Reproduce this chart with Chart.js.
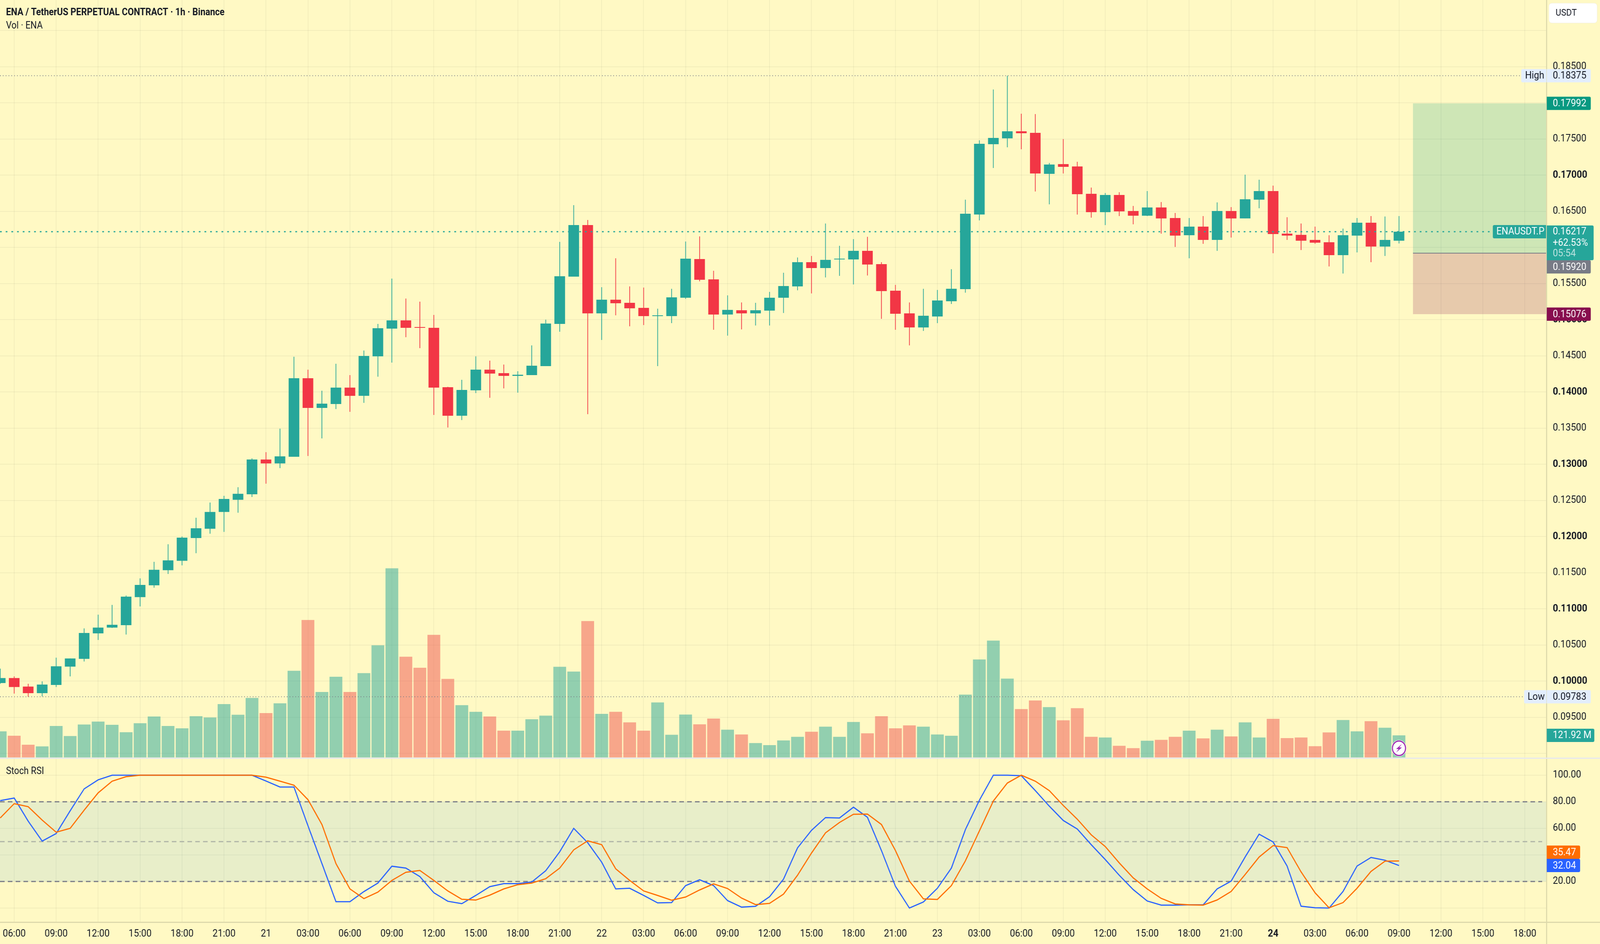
<!DOCTYPE html>
<html>
<head>
<meta charset="utf-8">
<title>ENA / TetherUS PERPETUAL CONTRACT</title>
<script src="https://cdn.jsdelivr.net/npm/chart.js@4"></script>
<style>
  html, body { margin: 0; padding: 0; background: #FFF9C4; overflow: hidden; }
  canvas { position: absolute; left: 0; display: block; }
</style>
</head>
<body>
<canvas id="mainChart" width="4508" height="1942" style="top:0"></canvas>
<canvas id="rsiChart" width="4508" height="474" style="top:1942px"></canvas>
<script>
// hourly candles, the first one is 05:00 on the 20th
const opens = [0.09973,0.10042,0.09924,0.09833,0.09946,0.10200,0.10307,0.10660,0.10740,0.10773,0.11162,0.11325,0.11534,0.11664,0.11979,0.12108,0.12340,0.12508,0.12585,0.13065,0.13011,0.13103,0.14190,0.13779,0.13833,0.14060,0.13946,0.14492,0.14876,0.14990,0.14898,0.14887,0.14065,0.13671,0.14022,0.14308,0.14260,0.14222,0.14233,0.14357,0.14941,0.15595,0.16308,0.15087,0.15276,0.15233,0.15163,0.15049,0.15049,0.15303,0.15838,0.15557,0.15071,0.15130,0.15087,0.15125,0.15303,0.15460,0.15795,0.15714,0.15833,0.15833,0.15952,0.15768,0.15400,0.15087,0.14892,0.15044,0.15254,0.15422,0.16454,0.17427,0.17508,0.17606,0.17584,0.17017,0.17152,0.17119,0.16741,0.16487,0.16725,0.16503,0.16438,0.16552,0.16406,0.16168,0.16287,0.16103,0.16503,0.16400,0.16660,0.16779,0.16190,0.16173,0.16103,0.16071,0.15892,0.16163,0.16341,0.16011,0.16092];
const highs = [0.10172,0.10065,0.09963,0.09996,0.10324,0.10313,0.10729,0.10919,0.11054,0.11184,0.11421,0.11650,0.11893,0.12000,0.12260,0.12470,0.12563,0.12682,0.13081,0.13167,0.13492,0.14487,0.14308,0.14017,0.14390,0.14233,0.14573,0.14941,0.15568,0.15292,0.15249,0.15065,0.14071,0.14168,0.14492,0.14433,0.14379,0.14287,0.14644,0.15000,0.16076,0.16584,0.16379,0.15449,0.15849,0.15460,0.15444,0.15152,0.15427,0.16081,0.16152,0.15676,0.15336,0.15238,0.15233,0.15384,0.15649,0.15860,0.15881,0.16330,0.16022,0.16114,0.16146,0.15795,0.15481,0.15238,0.15427,0.15411,0.15698,0.16660,0.17481,0.18184,0.18375,0.17849,0.17844,0.17168,0.17498,0.17184,0.16827,0.16752,0.16763,0.16573,0.16779,0.16627,0.16476,0.16406,0.16433,0.16622,0.16557,0.17006,0.16936,0.16854,0.16417,0.16330,0.16287,0.16168,0.16260,0.16406,0.16433,0.16427,0.16433];
const lows = [0.09963,0.09827,0.09783,0.09789,0.09918,0.10065,0.10271,0.10569,0.10735,0.10644,0.11033,0.11292,0.11482,0.11601,0.11769,0.12039,0.12064,0.12329,0.12547,0.12731,0.12946,0.13103,0.13114,0.13357,0.13763,0.13725,0.13849,0.14211,0.14406,0.14757,0.14606,0.13681,0.13508,0.13611,0.13984,0.13919,0.14049,0.13990,0.14233,0.14357,0.14833,0.15595,0.13692,0.14719,0.15060,0.14908,0.14925,0.14357,0.14952,0.15287,0.15530,0.14860,0.14779,0.14865,0.14919,0.14919,0.15092,0.15406,0.15363,0.15584,0.15606,0.15487,0.15611,0.15011,0.14860,0.14644,0.14844,0.14952,0.15217,0.15373,0.16373,0.17098,0.17384,0.17357,0.16773,0.16595,0.17022,0.16454,0.16411,0.16308,0.16433,0.16319,0.16433,0.16190,0.16006,0.15849,0.16049,0.15952,0.16136,0.16400,0.16541,0.15919,0.16103,0.15963,0.16049,0.15736,0.15638,0.15930,0.15795,0.15881,0.16054];
const closes = [0.10042,0.09918,0.09833,0.09952,0.10205,0.10313,0.10666,0.10740,0.10779,0.11168,0.11331,0.11540,0.11670,0.11984,0.12114,0.12340,0.12519,0.12591,0.13065,0.13011,0.13109,0.14190,0.13779,0.13838,0.14060,0.13946,0.14498,0.14881,0.14990,0.14887,0.14887,0.14060,0.13671,0.14027,0.14308,0.14254,0.14222,0.14238,0.14363,0.14946,0.15600,0.16308,0.15087,0.15276,0.15227,0.15157,0.15049,0.15060,0.15308,0.15844,0.15552,0.15071,0.15135,0.15087,0.15130,0.15303,0.15465,0.15795,0.15714,0.15827,0.15844,0.15952,0.15763,0.15395,0.15081,0.14892,0.15054,0.15265,0.15427,0.16465,0.17433,0.17514,0.17606,0.17579,0.17022,0.17146,0.17114,0.16736,0.16487,0.16725,0.16498,0.16438,0.16552,0.16400,0.16163,0.16287,0.16103,0.16503,0.16400,0.16665,0.16779,0.16184,0.16163,0.16092,0.16065,0.15892,0.16168,0.16341,0.16011,0.16103,0.16217];
// volume in millions of ENA
const volumes = [144,120,70,61,174,118,182,198,180,139,189,226,174,161,228,221,295,236,329,245,299,479,760,362,446,362,466,620,1046,557,496,678,434,289,252,226,148,148,211,231,501,475,754,241,252,194,148,304,125,237,183,215,153,127,79,68,94,114,142,170,114,196,133,228,161,177,170,127,120,347,542,646,436,267,315,278,205,272,114,110,64,51,92,97,114,148,105,153,116,194,110,213,107,110,62,138,207,144,200,164,121.92];
const stochK = [80.9,82.8,65.4,50.4,56.1,73.2,89.7,96.5,100,100,100,100,100,100,100,100,100,100,100,95.6,91.1,91.1,62,33.5,4.8,4.8,12.4,18.8,31.5,30.1,23.7,11.5,5.1,3.3,9.5,16.1,18.4,18.4,19.6,28.1,42.4,60,49.2,34.5,14.4,14.9,9.5,3.9,4.1,16.9,21.3,16.9,5.6,0.7,1.3,8.5,21.8,45.3,58.5,68.1,67.8,75.9,68.3,43.3,16.4,0,4.6,14.9,30.1,59,81.1,100,100,99.6,88.4,76.7,65.9,59.5,47.7,36.5,24.7,13.9,5.3,2.2,2.2,2.4,2.4,14.4,20.3,38.4,55.6,49.7,31.6,1.4,0.2,0,12.5,31.6,38.1,36,32.04];
const stochD = [67.8,78.6,76.3,66.2,57.1,60,73.7,86.7,95.5,98.9,100,100,100,100,100,100,100,100,100,98.5,95.5,92.5,81.6,62.9,33.5,14.4,7.1,12,20.8,26.9,28.3,20.8,12.9,6.6,6,9.7,14.4,17.6,18.8,22.1,30.1,43.8,50.6,47.7,29.6,20.8,12.9,9.5,5.9,8.3,13.6,18.2,14.7,7.5,2.6,3.5,10.5,24.7,41.4,56.6,64.4,70.6,70.7,62.9,43.3,20.3,6.9,6.5,16.9,35.5,58,80.6,94.1,100,95.5,88.4,77.2,66.9,55.1,46.3,34,22.7,14.4,7.3,3.1,2.4,2.2,6.1,12.5,25.2,38.4,47,45.5,27.2,11.5,0.2,4.1,14.9,27.6,35.3,35.47];

const priceTicks = [0.19,0.185,0.18,0.175,0.17,0.165,0.16,0.155,0.15,0.145,0.14,0.135,0.13,0.125,0.12,0.115,0.11,0.105,0.10,0.095,0.09];
const hiddenPriceTicks = [0.19,0.09];
const rsiTicks = [100,80,60,40,20,0];
const hiddenRsiTicks = [0];
const timeLabels = ['06:00','09:00','12:00','15:00','18:00','21:00','21','03:00','06:00','09:00','12:00','15:00','18:00','21:00','22','03:00','06:00','09:00','12:00','15:00','18:00','21:00','23','03:00','06:00','09:00','12:00','15:00','18:00','21:00','24','03:00','06:00','09:00','12:00','15:00','18:00'];
const timeTicks = timeLabels.map((_, k) => 1 + k * 3);
const hours = opens.map((_, n) => n);

const highPrice = 0.18375, lowPrice = 0.09783, lastPrice = 0.16217;
const targetPrice = 0.17992, entryPrice = 0.15920, stopPrice = 0.15076;
const positionStart = 101;
const rsiLevels = [80, 50, 20];

const UP = '#26A69A', DOWN = '#F23645';
const FONT = 'Roboto, sans-serif';
const TEXT = '#131722';
const GRID = 'rgba(42,46,57,0.06)';
const AXIS_LINE = '#DDD9AB';
const AXIS_X = 4357;

const isUp = hours.map(n => closes[n] >= opens[n]);

function keepTicks(values) {
  return scale => { scale.ticks = values.map(v => ({ value: v })); };
}

// the y axes must not shrink the plot to make room for their labels
function fitYAxis(s) {
  s.width = 151;
  s.paddingTop = 0;
  s.paddingBottom = 0;
}

function xScale(showLabels) {
  return {
    type: 'linear', min: -0.015, max: 110.54, offset: false,
    afterBuildTicks: keepTicks(timeTicks),
    afterFit: s => { s.height = showLabels ? 56 : 0; s.paddingLeft = 0; s.paddingRight = 0; },
    border: { display: false },
    grid: { color: GRID, lineWidth: 2, drawTicks: false, offset: false },
    ticks: {
      display: showLabels, autoSkip: false, maxRotation: 0, minRotation: 0, padding: 15, color: TEXT,
      callback: v => timeLabels[timeTicks.indexOf(v)],
      font: ctx => ({ family: FONT, size: 26, weight: ctx.tick && ctx.tick.value === 91 ? 'bold' : 'normal' })
    }
  };
}

function tag(ctx, x0, x1, yc, h, bg, label, color, tx, radiusLeft) {
  ctx.fillStyle = bg;
  ctx.beginPath();
  ctx.roundRect(x0, yc - h / 2, x1 - x0, h, radiusLeft ? [4, 0, 0, 4] : [0, 4, 4, 0]);
  ctx.fill();
  ctx.fillStyle = color;
  ctx.font = '26px ' + FONT;
  ctx.textAlign = 'left';
  ctx.textBaseline = 'middle';
  ctx.fillText(label, tx, yc + 1);
}

function dotted(ctx, y, x1, color, width, dash) {
  ctx.save();
  ctx.strokeStyle = color;
  ctx.lineWidth = width;
  ctx.setLineDash(dash);
  ctx.beginPath();
  ctx.moveTo(0, y);
  ctx.lineTo(x1, y);
  ctx.stroke();
  ctx.restore();
}

function axisLine(chart) {
  const ctx = chart.ctx;
  ctx.fillStyle = AXIS_LINE;
  ctx.fillRect(AXIS_X - 1, 0, 3, chart.height);
}

const mainOverlay = {
  id: 'mainOverlay',
  beforeDatasetsDraw(chart) {
    const ctx = chart.ctx, y = chart.scales.y, x = chart.scales.x;
    const left = x.getPixelForValue(positionStart), right = AXIS_X - 1;
    const top = y.getPixelForValue(targetPrice), mid = y.getPixelForValue(entryPrice), bottom = y.getPixelForValue(stopPrice);
    ctx.fillStyle = 'rgba(8,153,129,0.2)';
    ctx.fillRect(left, top, right - left, mid - top);
    ctx.fillStyle = 'rgba(136,14,79,0.2)';
    ctx.fillRect(left, mid, right - left, bottom - mid);
    ctx.fillStyle = '#787B86';
    ctx.fillRect(left, mid - 1, right - left, 2);
  },
  afterDatasetsDraw(chart) {
    const ctx = chart.ctx, y = chart.scales.y, x = chart.scales.x, vol = chart.scales.vol;
    const px = v => y.getPixelForValue(v);

    dotted(ctx, px(highPrice), 4282, '#787B86', 2, [2, 6]);
    dotted(ctx, px(lowPrice), 4290, '#787B86', 2, [2, 6]);
    dotted(ctx, px(lastPrice), 4200, UP, 3, [5, 11]);

    axisLine(chart);

    // pane separator
    ctx.fillStyle = '#E6E8EE';
    ctx.fillRect(0, 1939, 4508, 3);

    // the little bolt on the last bar
    const bx = x.getPixelForValue(hours[hours.length - 1]), by = 1915;
    ctx.fillStyle = '#FFFFFF';
    ctx.beginPath(); ctx.arc(bx, by, 21, 0, Math.PI * 2); ctx.fill();
    ctx.strokeStyle = '#9C27B0';
    ctx.lineWidth = 3;
    ctx.beginPath(); ctx.arc(bx, by, 18.5, 0, Math.PI * 2); ctx.stroke();
    ctx.fillStyle = '#9C27B0';
    ctx.beginPath();
    ctx.moveTo(bx + 8, by - 11); ctx.lineTo(bx - 8, by + 2); ctx.lineTo(bx - 1, by + 2);
    ctx.lineTo(bx - 8, by + 11); ctx.lineTo(bx + 8, by - 2); ctx.lineTo(bx + 1, by - 2);
    ctx.closePath(); ctx.fill();

    // price tags
    const light = '#E3EEFD';
    tag(ctx, 4286, 4357, px(highPrice), 34, light, 'High', TEXT, 4297, true);
    tag(ctx, 4358, 4482, px(highPrice), 34, light, highPrice.toFixed(5), TEXT, 4375);
    tag(ctx, 4294, 4357, px(lowPrice), 34, light, 'Low', TEXT, 4304, true);
    tag(ctx, 4358, 4482, px(lowPrice), 34, light, lowPrice.toFixed(5), TEXT, 4375);
    tag(ctx, 4358, 4482, px(targetPrice), 34, '#089981', targetPrice.toFixed(5), '#FFFFFF', 4375);
    tag(ctx, 4206, 4356, px(lastPrice), 34, UP, 'ENAUSDT.P', '#FFFFFF', 4216, true);
    tag(ctx, 4358, 4490, 621.5, 89, UP, '+62.53%', '#FFFFFF', 4375);
    ctx.fillText(lastPrice.toFixed(5), 4375, 593);
    ctx.fillStyle = 'rgba(255,255,255,0.7)';
    ctx.fillText('05:54', 4375, 649);
    tag(ctx, 4358, 4482, 683, 34, '#787B86', entryPrice.toFixed(5), '#FFFFFF', 4375);
    tag(ctx, 4358, 4482, px(stopPrice), 34, '#880E4F', stopPrice.toFixed(5), '#FFFFFF', 4375);
    tag(ctx, 4358, 4492, vol.getPixelForValue(volumes[volumes.length - 1]), 34, UP, '121.92 M', '#FFFFFF', 4375);

    // USDT button
    ctx.fillStyle = '#FFFFFF';
    ctx.strokeStyle = '#F0EDD8';
    ctx.lineWidth = 1;
    ctx.beginPath(); ctx.roundRect(4364, 8, 136, 51, 8); ctx.fill(); ctx.stroke();
    ctx.fillStyle = TEXT;
    ctx.font = '24px ' + FONT;
    ctx.fillText('USDT', 4383, 34);

    // header
    ctx.fillStyle = TEXT;
    ctx.font = 'bold 25px ' + FONT;
    ctx.fillText('ENA / TetherUS PERPETUAL CONTRACT · 1h · Binance', 17, 33);
    ctx.font = '25px ' + FONT;
    ctx.fillText('Vol · ENA', 17, 67);
  }
};

const rsiOverlay = {
  id: 'rsiOverlay',
  beforeDatasetsDraw(chart) {
    const ctx = chart.ctx, y = chart.scales.y, area = chart.chartArea;
    const top = y.getPixelForValue(rsiLevels[0]), bottom = y.getPixelForValue(rsiLevels[2]);
    ctx.fillStyle = 'rgba(33,150,243,0.1)';
    ctx.fillRect(0, top, area.right, bottom - top);
    rsiLevels.forEach((lv, k) => {
      dotted(ctx, y.getPixelForValue(lv), area.right - 12, k === 1 ? 'rgba(120,123,134,0.5)' : '#787B86', 3, [13, 9]);
    });
  },
  afterDatasetsDraw(chart) {
    const ctx = chart.ctx, area = chart.chartArea;
    axisLine(chart);
    ctx.fillStyle = AXIS_LINE;
    ctx.fillRect(0, area.bottom - 1, 4508, 3);
    tag(ctx, 4358, 4452, 2181 - 1942, 34, '#FF6D00', '35.47', '#FFFFFF', 4375);
    tag(ctx, 4358, 4452, 2215 - 1942, 34, '#2962FF', '32.04', '#FFFFFF', 4375);
    ctx.fillStyle = TEXT;
    ctx.font = '25px ' + FONT;
    ctx.fillText('Stoch RSI', 17, 1975 - 1942);
  }
};

const mainChart = new Chart(document.getElementById('mainChart'), {
  type: 'bar',
  data: {
    datasets: [
      {
        // bodies
        data: hours.map(n => ({ x: n, y: [opens[n], closes[n]] })),
        backgroundColor: isUp.map(u => u ? UP : DOWN),
        barThickness: 30, grouped: false, order: 1, inflateAmount: 0, minBarLength: 2
      },
      {
        // wicks
        data: hours.map(n => ({ x: n, y: [lows[n], highs[n]] })),
        backgroundColor: isUp.map(u => u ? UP : DOWN),
        barThickness: 2, grouped: false, order: 2, inflateAmount: 0
      },
      {
        data: hours.map(n => ({ x: n, y: volumes[n] })),
        yAxisID: 'vol',
        backgroundColor: isUp.map(u => u ? 'rgba(38,166,154,0.5)' : 'rgba(239,83,80,0.5)'),
        barThickness: 36, grouped: false, order: 3, inflateAmount: 0
      }
    ]
  },
  options: {
    responsive: false, animation: false, devicePixelRatio: 1,
    layout: { padding: 0, autoPadding: false },
    plugins: { legend: { display: false }, tooltip: { enabled: false } },
    scales: {
      x: xScale(false),
      y: {
        position: 'right', min: 0.08925, max: 0.19422,
        afterBuildTicks: keepTicks(priceTicks),
        afterFit: fitYAxis,
        border: { display: false },
        grid: { color: GRID, lineWidth: 2, drawTicks: false },
        ticks: {
          padding: 18, autoSkip: false, color: TEXT,
          callback: v => hiddenPriceTicks.includes(v) ? '' : v.toFixed(5),
          font: ctx => ({
            family: FONT, size: 26,
            weight: ctx.tick && Math.abs(ctx.tick.value * 100 - Math.round(ctx.tick.value * 100)) < 1e-6 ? 'bold' : 'normal'
          })
        }
      },
      vol: { display: false, position: 'right', min: -7.8, max: 4190 }
    }
  },
  plugins: [mainOverlay]
});

const rsiChart = new Chart(document.getElementById('rsiChart'), {
  type: 'line',
  data: {
    datasets: [
      {
        data: hours.map(n => ({ x: n, y: stochD[n] })),
        borderColor: '#FF6D00', borderWidth: 3, pointRadius: 0, tension: 0, order: 1
      },
      {
        data: hours.map(n => ({ x: n, y: stochK[n] })),
        borderColor: '#2962FF', borderWidth: 3, pointRadius: 0, tension: 0, order: 2
      }
    ]
  },
  options: {
    responsive: false, animation: false, devicePixelRatio: 1,
    layout: { padding: 0, autoPadding: false },
    plugins: { legend: { display: false }, tooltip: { enabled: false } },
    scales: {
      x: xScale(true),
      y: {
        position: 'right', min: -10.59, max: 112.35,
        afterBuildTicks: keepTicks(rsiTicks),
        afterFit: fitYAxis,
        border: { display: false },
        grid: { color: GRID, lineWidth: 2, drawTicks: false },
        ticks: {
          padding: 18, autoSkip: false, color: TEXT,
          callback: v => hiddenRsiTicks.includes(v) ? '' : v.toFixed(2),
          font: { family: FONT, size: 26 }
        }
      }
    }
  },
  plugins: [rsiOverlay]
});

// the window can be narrower than the 4508 wide chart, so fit it to what is there
[mainChart, rsiChart].forEach(c => { c.canvas.style.width = window.innerWidth + 'px'; });
</script>
</body>
</html>
